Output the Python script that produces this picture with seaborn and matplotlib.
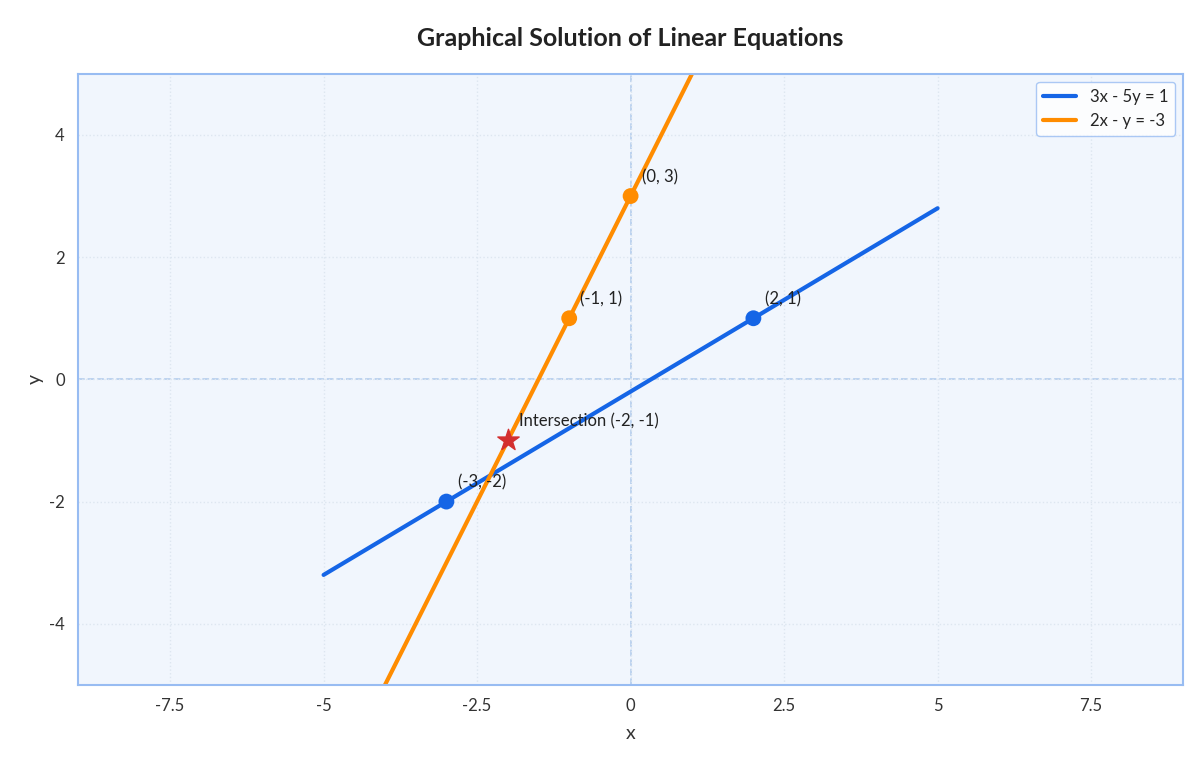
import numpy as np
import pandas as pd
import matplotlib
matplotlib.use("Agg")
import matplotlib.pyplot as plt
import seaborn as sns

x_vals = [-5, 5]
blue_pts_x = [-3, 2]
blue_pts_y = [-2, 1]
orange_pts_x = [-1, 0]
orange_pts_y = [1, 3]
inter = (-2, -1)
blue_label = "3x - 5y = 1"
orange_label = "2x - y = -3"

sns.set_theme(style="white")
plt.rcParams['font.family'] = ['Lato', 'DejaVu Sans']
plt.rcParams['axes.unicode_minus'] = False

xs = np.linspace(x_vals[0], x_vals[1], 200)
df = pd.DataFrame({
    "x": np.concatenate([xs, xs]),
    "y": np.concatenate([(3 * xs - 1) / 5, 2 * xs + 3]),
    "eq": [blue_label] * len(xs) + [orange_label] * len(xs),
})
blue = "#1565e6"
orange = "#ff8c00"

fig = plt.figure(figsize=(12, 7.61), dpi=100)
ax = fig.add_axes([0.065, 0.1, 0.921, 0.803])
ax.set_facecolor("#f1f6fd")
sns.lineplot(data=df, x="x", y="y", hue="eq", palette=[blue, orange], lw=3, ax=ax)
ax.axhline(0, color="#b8d0ee", ls="--", lw=1.3, zorder=0)
ax.axvline(0, color="#b8d0ee", ls="--", lw=1.3, zorder=0)
sns.scatterplot(x=blue_pts_x, y=blue_pts_y, color=blue, s=130, ax=ax, zorder=5, edgecolor="none")
sns.scatterplot(x=orange_pts_x, y=orange_pts_y, color=orange, s=130, ax=ax, zorder=5, edgecolor="none")
ax.scatter([inter[0]], [inter[1]], marker="*", s=260, color="#d32f2f", zorder=6)
for px, py in zip(blue_pts_x + orange_pts_x, blue_pts_y + orange_pts_y):
    ax.annotate(f"({px}, {py})", (px, py), xytext=(8, 10), textcoords="offset points", fontsize=12, color="#222")
ax.annotate(f"Intersection ({inter[0]}, {inter[1]})", inter, xytext=(8, 10), textcoords="offset points", fontsize=12, color="#222")

ax.set_xlim(-9, 9)
ax.set_ylim(-5, 5)
ax.set_xticks([-7.5, -5, -2.5, 0, 2.5, 5, 7.5])
ax.set_xticklabels(["-7.5", "-5", "-2.5", "0", "2.5", "5", "7.5"])
ax.set_yticks([-4, -2, 0, 2, 4])
ax.grid(True, ls=":", color="#dde6f0", lw=1)
for s in ax.spines.values():
    s.set_color("#98bcf2"); s.set_linewidth(1.5)
ax.tick_params(labelsize=12, colors="#333", left=False, bottom=False)
ax.set_xlabel("x", fontsize=14, color="#333", labelpad=8)
ax.set_ylabel("y", fontsize=14, color="#333")
ax.set_title("Graphical Solution of Linear Equations", fontsize=18, fontweight="bold", pad=20, color="#222")
leg = ax.legend(loc="upper right", fontsize=12, frameon=True, title=None)
leg.get_frame().set_edgecolor("#98bcf2")
fig.savefig("out.png", dpi=100)
